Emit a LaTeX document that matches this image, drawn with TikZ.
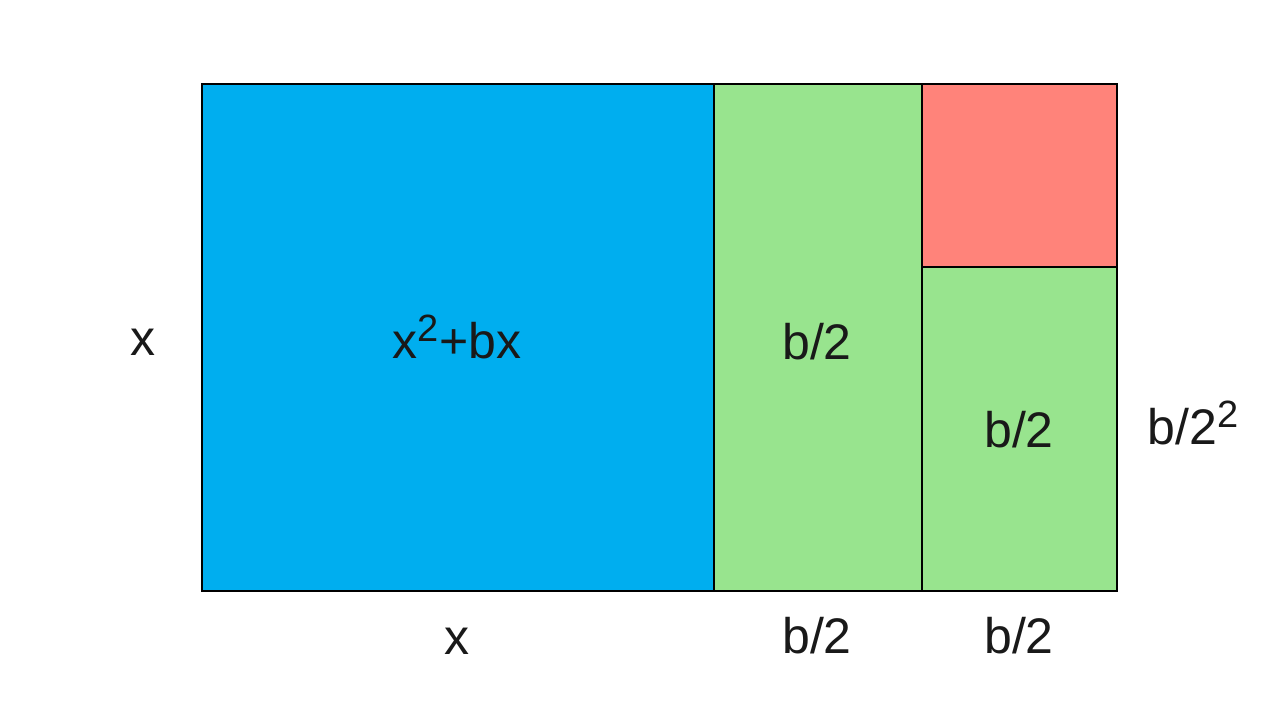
\documentclass[tikz,border=0pt]{standalone}
\usepackage{fontspec}
\setmainfont{Liberation Sans}
\definecolor{bluefill}{RGB}{0,174,239}
\definecolor{greenfill}{RGB}{152,228,142}
\definecolor{redfill}{RGB}{255,131,122}
\newcommand{\supr}[1]{\raisebox{17pt}{\fontsize{38}{44}\selectfont #1}}
\begin{document}
\begin{tikzpicture}[x=1pt,y=-1pt,
  box/.style={draw=black,line width=2pt},
  lbl/.style={font=\fontsize{50}{60}\selectfont,text=black!90,inner sep=0pt,anchor=center}]
\useasboundingbox[fill=white] (0,0) rectangle (1280,720);
\draw[box,fill=bluefill] (202,84) rectangle (714,591);
\draw[box,fill=greenfill] (714,84) rectangle (922,591);
\draw[box,fill=redfill] (922,84) rectangle (1117,267);
\draw[box,fill=greenfill] (922,267) rectangle (1117,591);
\node[lbl] (sidex) at (143,342) {x};
\node[lbl] (area) at (457,337) {x\supr{2}+bx};
\node[lbl] (mid) at (817,342) {b/2};
\node[lbl] (small) at (1019,430) {b/2};
\node[lbl] (sq) at (1193,423) {b/2\supr{2}};
\node[lbl] (botx) at (457,641) {x};
\node[lbl] (botb1) at (817,636) {b/2};
\node[lbl] (botb2) at (1019,636) {b/2};
\end{tikzpicture}
\end{document}
